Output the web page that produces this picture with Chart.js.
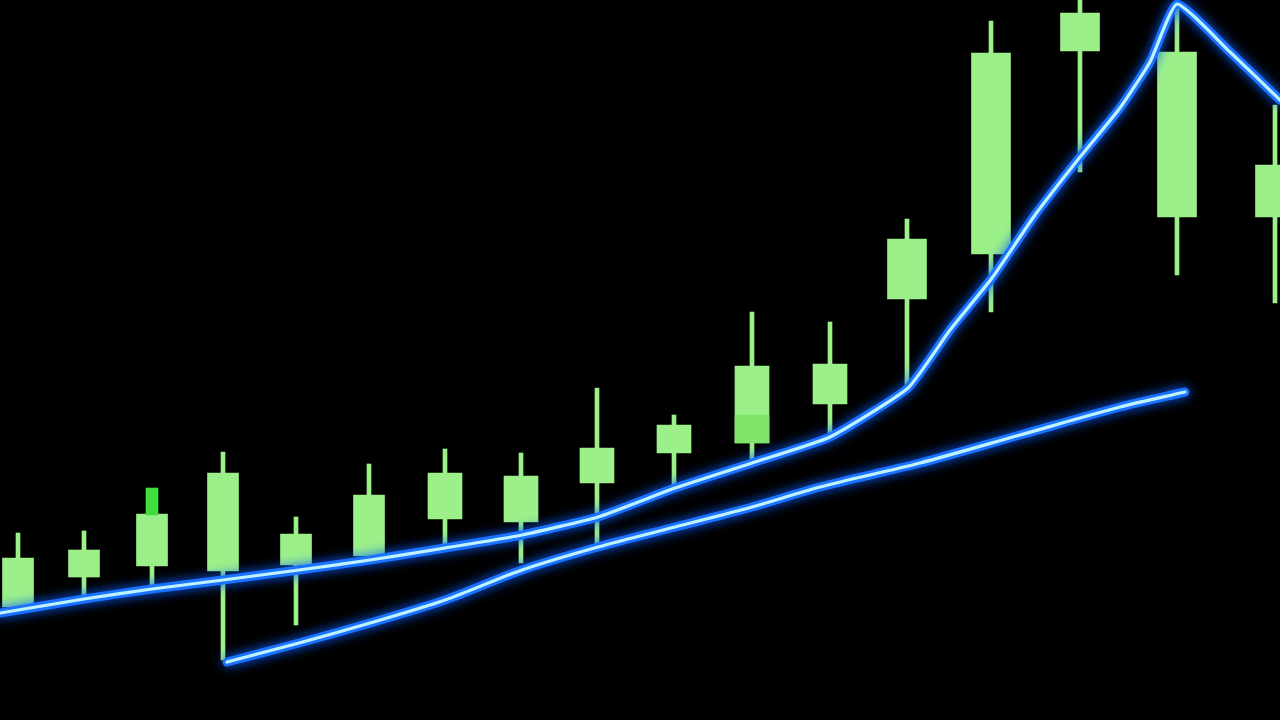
<!DOCTYPE html>
<html>
<head>
<meta charset="utf-8">
<script src="https://cdn.jsdelivr.net/npm/chart.js@4.4.1/dist/chart.umd.min.js"></script>
<style>
  html, body { margin: 0; padding: 0; background: #000; overflow: hidden; }
  #wrap { width: 1280px; height: 720px; position: relative; }
</style>
</head>
<body>
<div id="wrap"><canvas id="c" width="1280" height="720"></canvas></div>
<script>
// ---- data (time position, price) ----
const times  = [18, 84, 152, 223, 296, 369, 445, 521, 597, 674, 752, 830, 907, 991, 1080, 1177, 1275];
const highs  = [187, 189, 231, 268, 203, 256, 271, 267, 332, 305, 408, 398, 501, 699, 735, 712, 615];
const opens  = [113, 143, 154, 149, 155, 164, 201, 198, 237, 267, 277, 316, 421, 466, 669, 503, 503];
const closes = [162, 170, 206, 247, 186, 225, 247, 244, 272, 295, 354, 356, 481, 667, 707, 668, 555];
const lows   = [110, 123, 135,  60,  95, 160, 175, 157, 175, 235, 257, 285, 333, 408, 548, 445, 417];

// darker segments inside two candles
const darkTimes = [152, 752];
const darkLow   = [205, 277];
const darkHigh  = [232, 305];

// moving-average style lines
const fastX = [0, 84, 152, 223, 299, 370, 445, 522, 598, 675, 752, 830, 908, 950, 992, 1035, 1080, 1120, 1150, 1177, 1230, 1280];
const fastY = [107, 121, 131, 140, 150, 160, 172, 185, 203, 232, 257, 283, 332, 390, 442, 505, 563, 612, 658, 716, 668, 620];
const slowX = [227, 299, 370, 445, 522, 598, 675, 752, 820, 920, 1020, 1120, 1185];
const slowY = [58, 77, 97, 120, 150, 173, 193, 213, 233, 257, 285, 313, 328];

// ---- build datasets ----
const pts = (xs, ys) => xs.map((x, i) => ({ x: x, y: ys[i] }));
const candleRange = (idx) => idx.map(i => ({ x: times[i], y: [Math.min(opens[i], closes[i]), Math.max(opens[i], closes[i])] }));
const all = times.map((_, i) => i);
const groupA = all.filter(i => i < 6), groupB = all.filter(i => i >= 6 && i < 12), groupC = all.filter(i => i >= 12);

const BODY = '#9cf08a';
const DARK = '#3fdc3a';
const GLOW = '#1b72ff';
const CORE = '#bff2ff';
const bodyDs = (idx, w) => ({
  type: 'bar', data: candleRange(idx), backgroundColor: BODY, borderWidth: 0,
  barThickness: w, grouped: false, order: 5
});
const lineDs = (xs, ys, glow, tension) => ({
  type: 'line', data: pts(xs, ys), borderColor: glow ? GLOW : CORE, borderWidth: glow ? 9 : 3.2,
  pointRadius: 0, tension: tension, glow: glow, order: glow ? 3 : 2,
  borderCapStyle: 'round', borderJoinStyle: 'round'
});

const datasets = [
  { type: 'bar', data: times.map((t, i) => ({ x: t, y: [lows[i], highs[i]] })),
    backgroundColor: BODY, borderWidth: 0, barThickness: 4, grouped: false, order: 6 },
  bodyDs(groupA, 31), bodyDs(groupB, 34), bodyDs(groupC, 39),
  { type: 'bar', data: [{ x: darkTimes[0], y: [darkLow[0], darkHigh[0]] }],
    backgroundColor: DARK, borderWidth: 0, barThickness: 12, grouped: false, order: 4 },
  { type: 'bar', data: [{ x: darkTimes[1], y: [darkLow[1], darkHigh[1]] }],
    backgroundColor: 'rgba(125,228,105,0.95)', borderWidth: 0, barThickness: 34, grouped: false, order: 4 },
  lineDs(slowX, slowY, true, 0.3), lineDs(slowX, slowY, false, 0.3),
  lineDs(fastX, fastY, true, 0.15), lineDs(fastX, fastY, false, 0.15)
];

const glowPlugin = {
  id: 'glow',
  beforeDatasetDraw(chart, args) {
    const ds = chart.data.datasets[args.index];
    if (ds.glow) {
      chart.ctx.save();
      chart.ctx.shadowColor = 'rgba(10,95,255,1)';
      chart.ctx.shadowBlur = 12;
    }
  },
  afterDatasetDraw(chart, args) {
    const ds = chart.data.datasets[args.index];
    if (ds.glow) chart.ctx.restore();
  }
};

new Chart(document.getElementById('c'), {
  data: { datasets },
  plugins: [glowPlugin],
  options: {
    responsive: false,
    animation: false,
    layout: { padding: 0 },
    plugins: { legend: { display: false }, tooltip: { enabled: false } },
    scales: {
      x: { type: 'linear', min: 0, max: 1280, display: false, offset: false },
      y: { type: 'linear', min: 0, max: 720, display: false }
    }
  }
});
</script>
</body>
</html>
